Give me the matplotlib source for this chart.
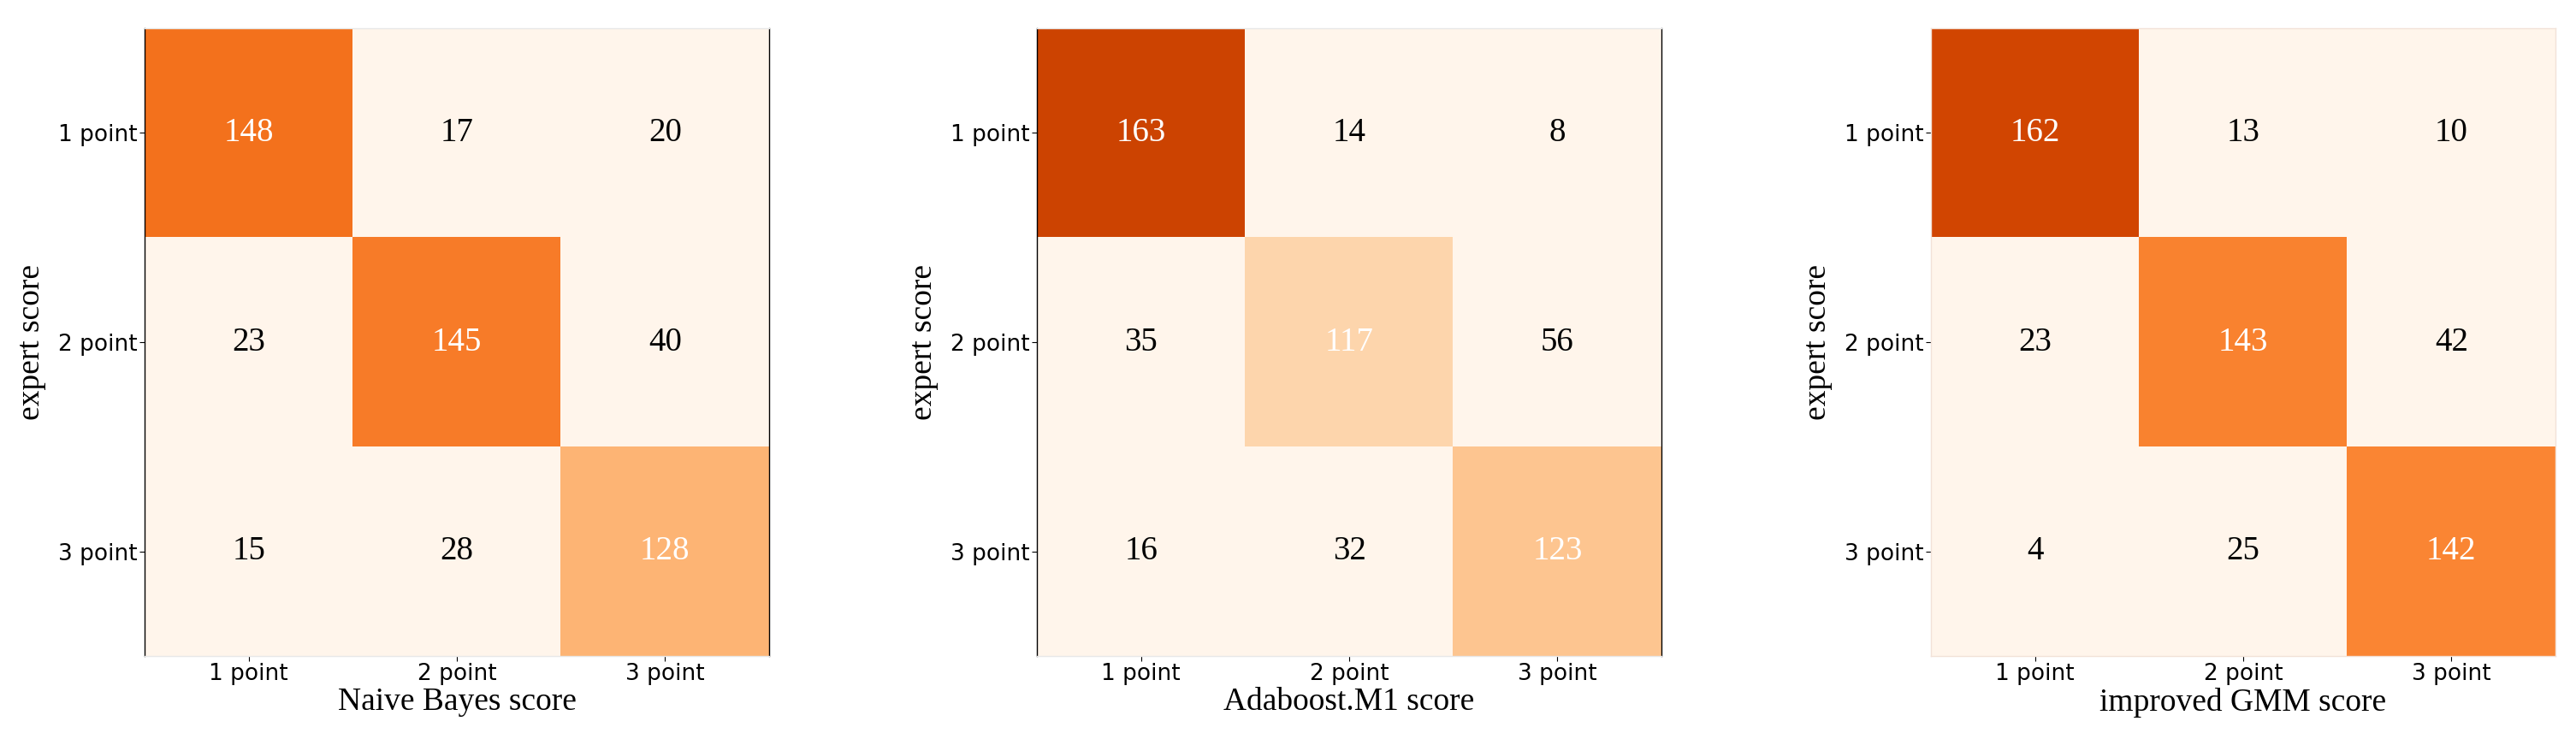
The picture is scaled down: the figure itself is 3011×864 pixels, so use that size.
import numpy as np
import matplotlib
matplotlib.use("Agg")
import matplotlib.pyplot as plt

# 데이터 — 혼동행렬 (행: expert score, 열: 모델 score)
classes = ["1 point", "2 point", "3 point"]
model_names = ["Naive Bayes score", "Adaboost.M1 score", "improved GMM score"]
cm_naive_bayes = [[148, 17, 20],
                  [23, 145, 40],
                  [15, 28, 128]]
cm_adaboost = [[163, 14, 8],
               [35, 117, 56],
               [16, 32, 123]]
cm_gmm = [[162, 13, 10],
          [23, 143, 42],
          [4, 25, 142]]

SERIF = ["Liberation Serif", "DejaVu Serif"]

fig = plt.figure(figsize=(30.11, 8.64), dpi=100)
W, H = 3011, 864
lefts = [169, 1212, 2257]
ax_w, top, bottom = 730, 33, 767

# 스파인 색 (원본 이미지 그대로: 앞 두 패널은 좌우 검정)
spine_styles = [
    {"left": "black", "right": "black", "top": "#e8e8e8", "bottom": "#e8e8e8"},
    {"left": "black", "right": "black", "top": "#e8e8e8", "bottom": "#e8e8e8"},
    {"left": "#f2e2d8", "right": "#f2e2d8", "top": "#f2e2d8", "bottom": "#f2e2d8"},
]

for i, (cm, name) in enumerate(zip([cm_naive_bayes, cm_adaboost, cm_gmm], model_names)):
    ax = fig.add_axes([lefts[i] / W, (H - bottom) / H, ax_w / W, (bottom - top) / H])
    cm = np.array(cm)
    ax.imshow(cm, cmap="Oranges", vmin=99, vmax=181, aspect="auto",
              interpolation="nearest")
    for r in range(cm.shape[0]):
        for c in range(cm.shape[1]):
            color = "white" if r == c else "black"
            ax.text(c, r, str(cm[r, c]), ha="center", va="center",
                    color=color, fontsize=28, family=SERIF)
    ax.set_xticks(range(len(classes)))
    ax.set_yticks(range(len(classes)))
    ax.set_xticklabels(classes, fontsize=19)
    ax.set_yticklabels(classes, fontsize=19)
    ax.tick_params(length=4, width=0.8, pad=2)
    ax.set_xlabel(name, fontsize=27, family=SERIF)
    ax.set_ylabel("expert score", fontsize=27, family=SERIF)
    ax.xaxis.set_label_coords(0.5, -0.05)
    ax.yaxis.set_label_coords(-0.157, 0.5)
    for side, col in spine_styles[i].items():
        ax.spines[side].set_color(col)
        ax.spines[side].set_linewidth(1.0)

plt.savefig("out.png", dpi=100)
